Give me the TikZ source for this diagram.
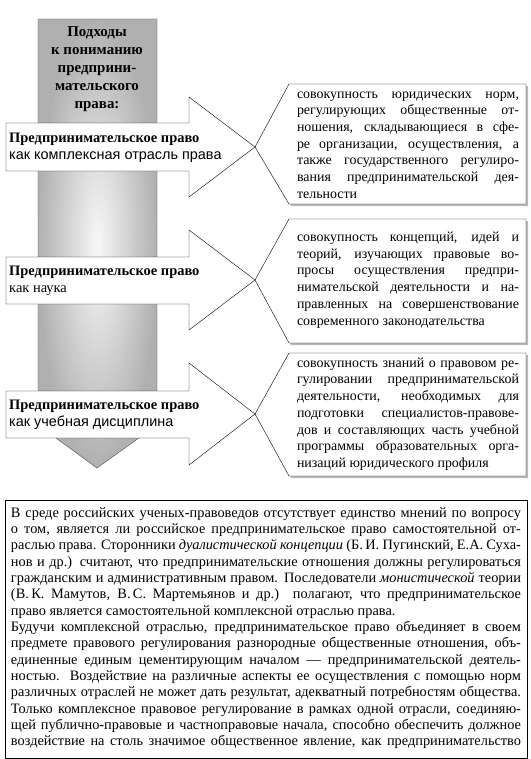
\documentclass[tikz,border=0pt]{standalone}
\usepackage{fontspec}
\setmainfont{Liberation Serif}
\newfontfamily\arialfont{Liberation Sans}
\usetikzlibrary{positioning}
\tikzset{
    bar/.style={draw=black!70, inner color=gray!6, outer color=gray!62},
    pointer/.style={draw=black, fill=white},
    shadow/.style={fill=gray!55, draw=none},
    defbox/.style={draw=black, fill=white},
    notebox/.style={draw=black, fill=white},
    heading/.style={align=center, inner sep=0pt, font=\fontsize{15}{18}\selectfont\bfseries},
    approach/.style={anchor=west, align=left, inner sep=0pt, font=\fontsize{14.5}{17.5}\selectfont},
    deftext/.style={text width=222bp, align=justify, inner sep=0pt, font=\fontsize{14}{16.8}\selectfont,
        execute at begin node={\hyphenpenalty=10000\exhyphenpenalty=10000\parindent=0pt\spaceskip=0.25em plus 0.3em minus 0.12em}},
    notetext/.style={text width=510bp, align=justify, inner sep=0pt, font=\fontsize{14.4}{16.4}\selectfont,
        execute at begin node={\hyphenpenalty=10000\exhyphenpenalty=10000\parindent=0pt}}
}
\begin{document}
\begin{tikzpicture}[x=1bp, y=-1bp]
    \useasboundingbox (0,0) rectangle (531,759);

    % central bar
    \draw[bar] (38,19) -- (157,19) -- (157,425) -- (97,468) -- (38,425) -- cycle;
    \node[heading] (title) at (97,69) {Подходы\\к пониманию\\предприни-\\мательского\\права:};

    % approach arrows
    \draw[pointer] (6,123) -- (189,123) -- (189,97) -- (255,147) -- (189,197) -- (189,171) -- (6,171) -- cycle;
    \draw[pointer] (6,257) -- (189,257) -- (189,230) -- (255,280) -- (189,330) -- (189,304) -- (6,304) -- cycle;
    \draw[pointer] (6,391) -- (189,391) -- (189,363) -- (255,414) -- (189,465) -- (189,438) -- (6,438) -- cycle;

    \node[approach] (branch) at (9,148) {\textbf{Предпринимательское право}\\{\arialfont как комплексная отрасль права}};
    \node[approach] (science) at (9,281) {\textbf{Предпринимательское право}\\как наука};
    \node[approach] (course) at (9,415) {\textbf{Предпринимательское право}\\{\arialfont как учебная дисциплина}};

    % definitions
    \fill[shadow] (291,86) -- (528,86) -- (528,206) -- (291,206) -- (257,149) -- cycle;
    \draw[defbox] (289,84) -- (526,84) -- (526,204) -- (289,204) -- (255,147) -- cycle;
    \fill[shadow] (291,221) -- (528,221) -- (528,345) -- (291,345) -- (257,282) -- cycle;
    \draw[defbox] (289,219) -- (526,219) -- (526,343) -- (289,343) -- (255,280) -- cycle;
    \fill[shadow] (291,355) -- (528,355) -- (528,478) -- (291,478) -- (257,416) -- cycle;
    \draw[defbox] (289,353) -- (526,353) -- (526,476) -- (289,476) -- (255,414) -- cycle;

    \node[deftext] (branchdef) at (408,145) {совокупность юридических норм,\linebreak
        регулирующих общественные от-\linebreak
        ношения, складывающиеся в сфе-\linebreak
        ре организации, осуществления, а\linebreak
        также государственного регулиро-\linebreak
        вания предпринимательской дея-\linebreak
        тельности};
    \node[deftext] (sciencedef) at (408,280) {совокупность концепций, идей и\linebreak
        теорий, изучающих правовые во-\linebreak
        просы осуществления предпри-\linebreak
        нимательской деятельности и на-\linebreak
        правленных на совершенствование\linebreak
        современного законодательства};
    \node[deftext] (coursedef) at (408,414) {совокупность знаний о правовом ре-\linebreak
        гулировании предпринимательской\linebreak
        деятельности, необходимых для\linebreak
        подготовки специалистов-правове-\linebreak
        дов и составляющих часть учебной\linebreak
        программы образовательных орга-\linebreak
        низаций юридического профиля};

    % commentary
    \draw[notebox] (5,500) rectangle (527,758);
    \node[notetext] (note) at (266,628) {В среде российских ученых-правоведов отсутствует единство мнений по вопросу\linebreak
        о том, является ли российское предпринимательское право самостоятельной от-\linebreak
        раслью права. Сторонники \textit{дуалистической концепции} (Б.\,И.~Пугинский, Е.А.~Суха-\linebreak
        нов и др.) считают, что предпринимательские отношения должны регулироваться\linebreak
        гражданским и административным правом. Последователи \textit{монистической} теории\linebreak
        (В.\,К.~Мамутов, В.\,С.~Мартемьянов и др.) полагают, что предпринимательское\linebreak
        право является самостоятельной комплексной отраслью права.\par
        Будучи комплексной отраслью, предпринимательское право объединяет в своем\linebreak
        предмете правового регулирования разнородные общественные отношения, объ-\linebreak
        единенные единым цементирующим началом — предпринимательской деятель-\linebreak
        ностью. Воздействие на различные аспекты ее осуществления с помощью норм\linebreak
        различных отраслей не может дать результат, адекватный потребностям общества.\linebreak
        Только комплексное правовое регулирование в рамках одной отрасли, соединяю-\linebreak
        щей публично-правовые и частноправовые начала, способно обеспечить должное\linebreak
        воздействие на столь значимое общественное явление, как предпринимательство\parfillskip=0pt\par};
\end{tikzpicture}
\end{document}
